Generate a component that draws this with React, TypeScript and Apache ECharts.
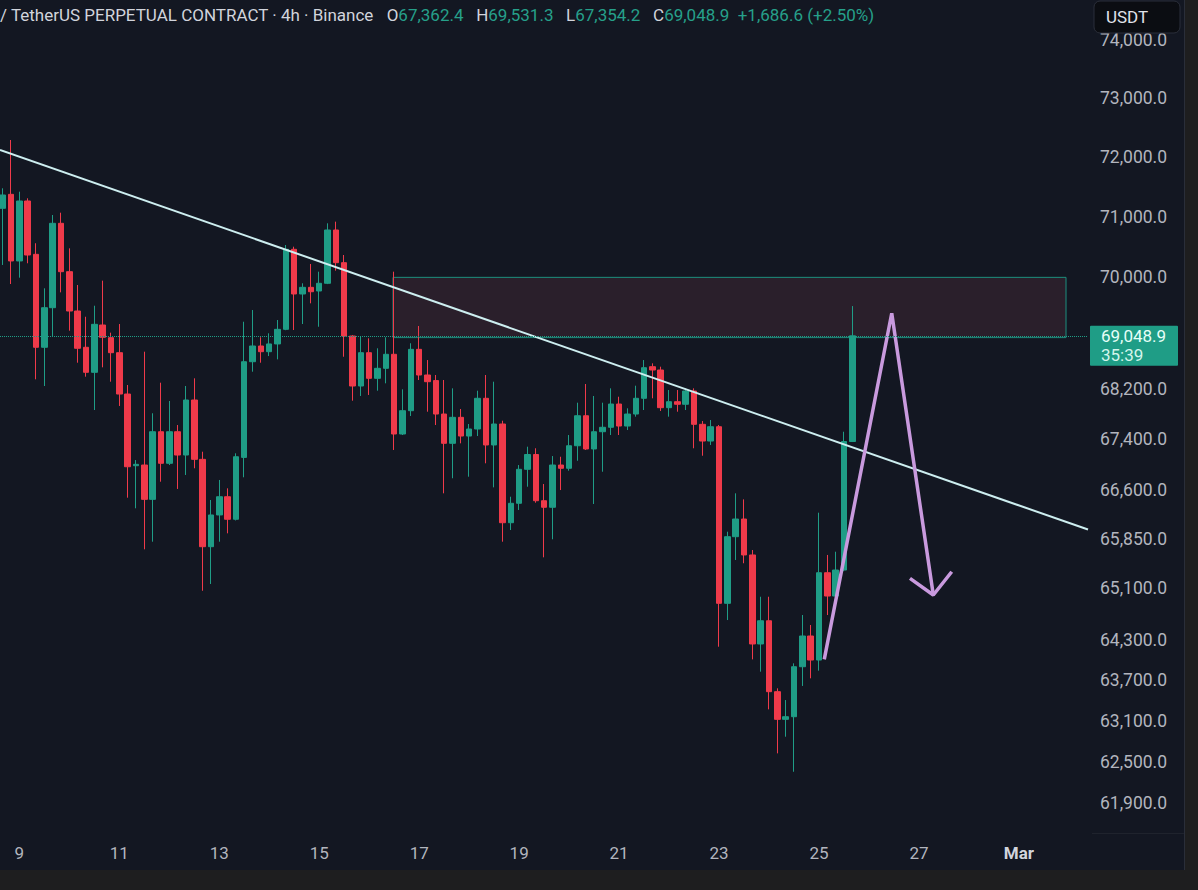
import React, { useEffect, useRef } from 'react';
import * as echarts from 'echarts';

// 4h candles, Feb 8 16:00 -> Feb 25 16:00 (index 0 .. 102)
const openP = [
  71140, 71373, 70269, 71262, 70378, 68864, 69505, 70891, 70093, 69451,
  68864, 68462, 69224, 69019, 68777, 68115, 66982, 66993, 66457, 67517,
  67020, 67517, 67150, 68020, 67082, 65725, 66215, 66498, 66148, 67113,
  68632, 68885, 68793, 68918, 69154, 70461, 69728, 69837, 69777, 69903,
  70780, 70241, 69046, 68243, 68777, 68366, 68526, 68751, 67481, 67850,
  68831, 68419, 68330, 67797, 67334, 67745, 67449, 67560, 68047, 67308,
  67639, 66095, 66396, 66926, 67158, 66436, 66334, 66993, 66942, 67296,
  67770, 67245, 67517, 67587, 67956, 67607, 67797, 68047, 68552, 68499,
  67898, 67993, 67952, 68163, 67634, 67370, 67596, 64860, 65879, 66152,
  65598, 64246, 64596, 63533, 63123, 63162, 63905, 64366, 64005, 65326,
  64971, 65367, 67362.4,
];
const closeP = [
  71362, 70269, 71262, 70367, 68864, 69505, 70891, 70093, 69451, 68848,
  68462, 69235, 69025, 68777, 68115, 66966, 67004, 66457, 67517, 67020,
  67517, 67150, 68020, 67082, 65725, 66215, 66498, 66148, 67123, 68632,
  68885, 68793, 68918, 69154, 70461, 69728, 69837, 69765, 69903, 70780,
  70241, 69046, 68243, 68777, 68366, 68526, 68751, 67481, 67850, 68831,
  68419, 68312, 67797, 67334, 67745, 67449, 67560, 68047, 67308, 67639,
  66095, 66396, 66926, 67158, 66436, 66334, 66993, 66942, 67296, 67770,
  67245, 67517, 67587, 67956, 67607, 67797, 68047, 68536, 68499, 67898,
  67993, 67952, 68163, 67634, 67370, 67596, 64860, 65879, 66152, 65598,
  64246, 64596, 63533, 63123, 63162, 63905, 64366, 64005, 65326, 64971,
  65367, 67362.3, 69048.9,
];
const lowP = [
  70203, 69891, 69995, 70231, 68350, 68243, 69035, 69755, 69132, 68616,
  68392, 67861, 68542, 68312, 67925, 66483, 66318, 65685, 65802, 66732,
  66993, 66619, 66837, 66942, 65051, 65154, 65802, 65931, 66130, 66801,
  68472, 68616, 68723, 68670, 69140, 69143, 69240, 69576, 69196, 69890,
  70110, 68712, 68009, 68084, 68100, 68168, 68286, 67229, 67465, 67766,
  68339, 67834, 67623, 66551, 66786, 67334, 66810, 67449, 67020, 66644,
  65802, 65982, 66292, 66654, 66405, 65562, 65839, 66602, 66904, 67060,
  67229, 66385, 66888, 67465, 67465, 67544, 67755, 67861, 68047, 67845,
  67755, 67834, 67861, 67256, 67139, 67308, 64205, 64607, 65521, 65471,
  64015, 63831, 63271, 62623, 62867, 62354, 63618, 63732, 63846, 64683,
  64910, 65350, 67354.2,
];
const highP = [
  71474, 72286, 71417, 71307, 70561, 69821, 71029, 71067, 70477, 69875,
  69358, 69537, 69946, 69100, 69240, 68259, 67071, 68793, 67809, 68296,
  68004, 67623, 68243, 68366, 67202, 66447, 66759, 66629, 67177, 69277,
  69467, 69025, 69090, 69305, 70532, 70504, 69903, 70219, 70093, 70891,
  70918, 70367, 69060, 69035, 69009, 68848, 69025, 70093, 68190, 68929,
  69208, 68659, 68419, 68339, 68206, 67877, 67639, 68168, 68419, 68312,
  67691, 66498, 66993, 67281, 67256, 66696, 67134, 67123, 67465, 67977,
  68275, 68084, 67977, 68206, 68072, 67888, 68248, 68659, 68606, 68552,
  68179, 68179, 68206, 68206, 67686, 67702, 67623, 65956, 66551, 66457,
  65674, 64960, 64960, 63583, 63409, 63956, 64683, 64532, 66250, 65598,
  65648, 67517, 69531.3,
];

// time axis labels (candle index -> label)
const xLabelIdx = [2, 14, 26, 38, 50, 62, 74, 86, 98, 110, 122];
const xLabelText = ['9', '11', '13', '15', '17', '19', '21', '23', '25', '27', 'Mar'];

// price axis labels
const yTicks = [74000, 73000, 72000, 71000, 70000, 68200, 67400, 66600, 65850, 65100, 64300, 63700, 63100, 62500, 61900];

// drawings
const trendX = [-0.3205, 130.29];
const trendP = [72117, 65990];
const zoneX = [46.86, 127.65];
const zoneP = [70000, 69020];
const arrowX = [98.63, 106.73, 111.72];
const arrowP = [64015, 69414, 64986];
const headX = [108.92, 111.72, 113.93];
const headP = [65240, 64986, 65341];

const countdown = '35:39';

const UP = '#1f9d86';
const DOWN = '#ef3a4a';
const FONT = 'Roboto';
const FS = 17;

const fmt = (v: number) =>
  v.toLocaleString('en-US', { minimumFractionDigits: 1, maximumFractionDigits: 1 });

export default function App() {
  const ref = useRef<HTMLDivElement>(null);

  useEffect(() => {
    if (!ref.current) return;
    const chart = echarts.init(ref.current, undefined, { renderer: 'svg' });
    const n = openP.length;
    const lastO = openP[n - 1];
    const lastC = closeP[n - 1];
    const lastH = highP[n - 1];
    const lastL = lowP[n - 1];
    const prevC = closeP[n - 2];
    const chg = lastC - prevC;
    const pct = (chg / prevC) * 100;
    const sg = chg >= 0 ? '+' : '';
    const header =
      '{w|/ TetherUS PERPETUAL CONTRACT · 4h · Binance}   ' +
      `{w|O}{g|${fmt(lastO)}}   {w|H}{g|${fmt(lastH)}}   {w|L}{g|${fmt(lastL)}}   {w|C}{g|${fmt(lastC)}}  ` +
      `{g|${sg}${fmt(chg)} (${sg}${pct.toFixed(2)}%)}`;

    const baseGraphic: any[] = [
      { type: 'rect', z: -100, silent: true, shape: { x: 0, y: 0, width: 1184, height: 870 }, style: { fill: '#131722' } },
      { type: 'line', z: 50, silent: true, shape: { x1: 1184.5, y1: 0, x2: 1184.5, y2: 870 }, style: { stroke: '#2a2e39', lineWidth: 1 } },
      { type: 'line', z: 50, silent: true, shape: { x1: 1092, y1: 833.5, x2: 1184, y2: 833.5 }, style: { stroke: '#1f232d', lineWidth: 1 } },
      {
        type: 'text',
        z: 100,
        x: 0,
        y: 15,
        style: {
          text: header,
          fontSize: FS,
          fontFamily: FONT,
          fill: '#d1d4dc',
          verticalAlign: 'middle',
          rich: {
            w: { fill: '#d1d4dc', fontSize: FS, fontFamily: FONT },
            g: { fill: '#26a08a', fontSize: FS, fontFamily: FONT },
          },
        },
      },
      { type: 'rect', z: 100, shape: { x: 1094, y: 1, width: 86, height: 32, r: 6 }, style: { fill: '#0b0d12', stroke: '#2b2f3a', lineWidth: 1 } },
      { type: 'text', z: 101, x: 1106, y: 17, style: { text: 'USDT', fontSize: FS, fontFamily: FONT, fill: '#e0e3eb', verticalAlign: 'middle' } },
    ];

    const option: any = {
      animation: false,
      backgroundColor: '#1e1e1f',
      textStyle: { fontFamily: FONT },
      grid: { left: 0, right: 110, top: 0, bottom: 55 },
      xAxis: {
        type: 'value',
        min: trendX[0],
        max: trendX[1],
        axisLine: { show: false },
        axisTick: { show: false },
        splitLine: { show: false },
        axisLabel: {
          customValues: xLabelIdx,
          margin: 9,
          color: '#b2b5be',
          fontSize: FS,
          fontFamily: FONT,
          formatter: (v: number) => {
            const k = xLabelIdx.findIndex((x) => Math.abs(x - v) < 0.01);
            const t = k >= 0 ? xLabelText[k] : '';
            return t === 'Mar' ? '{b|Mar}' : t;
          },
          rich: { b: { fontWeight: 'bold', color: '#d1d4dc', fontSize: FS, fontFamily: FONT } },
        },
      },
      yAxis: {
        type: 'log',
        logBase: Math.E,
        position: 'right',
        min: 61438,
        max: 74693,
        axisLine: { show: false },
        axisTick: { show: false },
        splitLine: { show: false },
        axisLabel: {
          customValues: yTicks,
          margin: 12,
          color: '#b2b5be',
          fontSize: 17.5,
          fontFamily: FONT,
          formatter: (v: number) => fmt(Math.round(v * 10) / 10),
        },
      },
      graphic: baseGraphic,
      series: [
        {
          type: 'candlestick',
          barWidth: 6,
          data: openP.map((o, i) => [i, o, closeP[i], lowP[i], highP[i]]),
          itemStyle: { color: UP, color0: DOWN, borderColor: UP, borderColor0: DOWN, borderWidth: 1 },
          markArea: {
            silent: true,
            itemStyle: { color: 'rgba(134, 63, 80, 0.2)', borderColor: '#1d8f7e', borderWidth: 1 },
            data: [[{ coord: [zoneX[0], zoneP[0]] }, { coord: [zoneX[1], zoneP[1]] }]],
          },
          markLine: {
            silent: true,
            symbol: 'none',
            lineStyle: { color: UP, type: 'dotted', width: 1 },
            label: { show: false },
            data: [{ yAxis: lastC }],
          },
        },
        {
          type: 'line',
          data: trendX.map((x, i) => [x, trendP[i]]),
          symbol: 'none',
          silent: true,
          lineStyle: { color: '#cdeef0', width: 2 },
          z: 3,
        },
        {
          type: 'line',
          data: arrowX.map((x, i) => [x, arrowP[i]]),
          symbol: 'none',
          silent: true,
          lineStyle: { color: '#c99ade', width: 3.5, join: 'miter' },
          z: 4,
        },
        {
          type: 'line',
          data: headX.map((x, i) => [x, headP[i]]),
          symbol: 'none',
          silent: true,
          lineStyle: { color: '#c99ade', width: 3.5 },
          z: 4,
        },
      ],
    };
    chart.setOption(option);

    // current-price tag on the price scale, placed through the y axis
    const py = chart.convertToPixel({ yAxisIndex: 0 }, lastC) as number;
    chart.setOption({
      graphic: [
        ...baseGraphic,
        { type: 'rect', z: 100, shape: { x: 1090, y: py - 10, width: 88, height: 40, r: 1 }, style: { fill: UP } },
        { type: 'text', z: 101, x: 1101, y: py, style: { text: fmt(lastC), fontSize: FS, fontFamily: FONT, fill: '#e6fff8', verticalAlign: 'middle' } },
        { type: 'text', z: 101, x: 1101, y: py + 19, style: { text: countdown, fontSize: FS, fontFamily: FONT, fill: '#d4f5ec', verticalAlign: 'middle' } },
      ],
    });

    return () => chart.dispose();
  }, []);

  return (
    <div
      ref={ref}
      style={{ position: 'fixed', left: 0, top: 0, width: 1198, height: 890 }}
    />
  );
}
